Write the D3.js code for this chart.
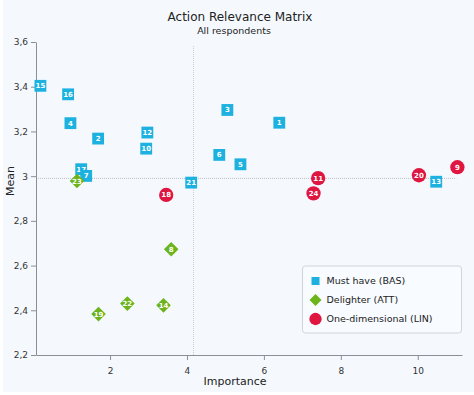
<!DOCTYPE html>
<html><head><meta charset="utf-8">
<script src="https://cdn.jsdelivr.net/npm/d3@7"></script>
<style>body{margin:0;background:#fff;}svg{display:block;font-family:"DejaVu Sans",Verdana,sans-serif;}</style>
</head><body><svg id="c" width="474" height="395"></svg>
<script>
const title = "Action Relevance Matrix";
const subtitle = "All respondents";
const xLabel = "Importance";
const yLabel = "Mean";
const seriesNames = ["Must have (BAS)", "Delighter (ATT)", "One-dimensional (LIN)"];
const seriesColors = ["#1cb1df", "#6cb41a", "#df1640"];
const seriesShapes = ["square", "diamond", "circle"];
// Must have (BAS)
const basIds = [15, 16, 4, 2, 12, 10, 17, 7, 21, 3, 1, 6, 5, 13];
const basImportance = [0.19, 0.91, 0.97, 1.69, 2.97, 2.94, 1.25, 1.38, 4.11, 5.05, 6.40, 4.84, 5.39, 10.48];
const basMean = [3.404, 3.366, 3.237, 3.168, 3.195, 3.123, 3.031, 3.001, 2.971, 3.296, 3.239, 3.095, 3.053, 2.975];
// Delighter (ATT)
const attIds = [23, 8, 19, 22, 14];
const attImportance = [1.14, 3.59, 1.70, 2.45, 3.39];
const attMean = [2.978, 2.673, 2.383, 2.430, 2.422];
// One-dimensional (LIN)
const linIds = [18, 11, 24, 20, 9];
const linImportance = [3.46, 7.41, 7.29, 10.03, 11.03];
const linMean = [2.916, 2.991, 2.923, 3.004, 3.040];
const xDomain = [0.075, 11.15];
const yDomain = [2.2, 3.6];
const xTicks = [2, 4, 6, 8, 10];
const yTicks = [2.2, 2.4, 2.6, 2.8, 3.0, 3.2, 3.4, 3.6];
const refImportance = 4.17;
const refMean = 2.99;

const svg = d3.select("#c");
svg.append("rect").attr("x",3).attr("y",0).attr("width",471).attr("height",392).attr("fill","#f5f9fe");

const x = d3.scaleLinear().domain(xDomain).range([36, 462]);
const y = d3.scaleLinear().domain(yDomain).range([355, 42]);

svg.append("text").attr("x",240).attr("y",21).attr("text-anchor","middle").attr("font-size",12).attr("fill","#222").text(title);
svg.append("text").attr("x",234).attr("y",34).attr("text-anchor","middle").attr("font-size",9.5).attr("fill","#222").text(subtitle);

// reference lines
svg.append("line").attr("x1",x(refImportance)).attr("x2",x(refImportance)).attr("y1",46).attr("y2",355)
  .attr("stroke","#c8cdd3").attr("stroke-width",1).attr("stroke-dasharray","1,1");
svg.append("line").attr("x1",36).attr("x2",x(11.0)).attr("y1",y(refMean)).attr("y2",y(refMean))
  .attr("stroke","#b8bec6").attr("stroke-width",1).attr("stroke-dasharray","1,1");

const fmt = v => String(+v.toFixed(1)).replace(".", ",");
const xAxis = svg.append("g").attr("transform","translate(0,355)")
  .call(d3.axisBottom(x).tickValues(xTicks).tickSize(5).tickSizeOuter(0).tickFormat(d=>String(d)));
const yAxis = svg.append("g").attr("transform","translate(36,0)")
  .call(d3.axisLeft(y).tickValues(yTicks).tickSize(5).tickSizeOuter(0).tickFormat(fmt));
[xAxis,yAxis].forEach(a=>{
  a.select(".domain").attr("stroke","#8a9099");
  a.selectAll(".tick line").attr("stroke","#8a9099");
  a.selectAll(".tick text").attr("font-size",9).attr("fill","#333").attr("font-family","DejaVu Sans, Verdana, sans-serif");
});
xAxis.selectAll(".tick text").attr("dy","1.2em");

svg.append("text").attr("x",235).attr("y",385).attr("text-anchor","middle").attr("font-size",11).attr("fill","#222").text(xLabel);
svg.append("text").attr("transform","translate(14,181) rotate(-90)").attr("text-anchor","middle").attr("font-size",11).attr("fill","#222").text(yLabel);

const sym = {square: d3.symbol().type(d3.symbolSquare).size(140),
             circle: d3.symbol().type(d3.symbolCircle).size(160)};
function shapePath(shape){
  if(shape==="diamond") return "M0,-7.3L7.3,0L0,7.3L-7.3,0Z";
  return sym[shape]();
}
const groups = [
  {ids: basIds, xs: basImportance, ys: basMean},
  {ids: attIds, xs: attImportance, ys: attMean},
  {ids: linIds, xs: linImportance, ys: linMean}
];
groups.forEach((g,gi)=>{
  const data = g.ids.map((id,i)=>({id, x:g.xs[i], y:g.ys[i]}));
  const sel = svg.append("g").selectAll("g").data(data).join("g")
    .attr("transform", d=>`translate(${x(d.x)},${y(d.y)})`);
  sel.append("path").attr("d", shapePath(seriesShapes[gi])).attr("fill", seriesColors[gi]);
  sel.append("text").attr("text-anchor","middle").attr("dy","0.35em").attr("font-size",7)
    .attr("fill","#fff").attr("font-weight","bold").text(d=>d.id);
});

// legend
const lg = svg.append("g").attr("transform","translate(302.5,266)");
lg.append("rect").attr("width",159).attr("height",67).attr("rx",3).attr("fill","#f8fbff").attr("stroke","#cfd5dc");
seriesNames.forEach((n,i)=>{
  const cy = 15 + i*19;
  let p;
  if(seriesShapes[i]==="square") p = d3.symbol().type(d3.symbolSquare).size(64)();
  else if(seriesShapes[i]==="diamond") p = "M0,-6L6,0L0,6L-6,0Z";
  else p = d3.symbol().type(d3.symbolCircle).size(120)();
  lg.append("path").attr("transform",`translate(13,${cy})`).attr("d",p).attr("fill",seriesColors[i]);
  lg.append("text").attr("x",24).attr("y",cy).attr("dy","0.35em").attr("font-size",9.5).attr("fill","#222").text(n);
});
</script></body></html>
